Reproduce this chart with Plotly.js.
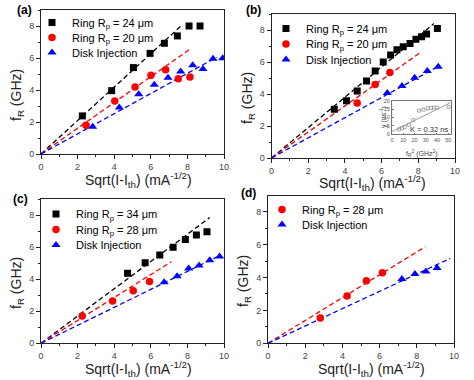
<!DOCTYPE html>
<html><head><meta charset="utf-8">
<script src="https://cdn.plot.ly/plotly-3.0.1.min.js"></script>
<style>html,body{margin:0;padding:0;background:#fff}#c{width:474px;height:380px}</style>
</head><body><div id="c"></div>
<script>
// ---- data ----
var a_r24_x = [2.26,3.86,5.05,5.96,6.74,7.45,8.09,8.69];
var a_r24_y = [2.38,3.96,5.40,6.29,6.92,7.38,8.0,8.0];
var a_r20_x = [2.46,4.03,5.14,6.01,6.81,7.5,8.14];
var a_r20_y = [1.79,3.31,4.19,4.92,5.27,4.71,4.81];
var a_dk_x = [2.82,4.28,5.34,6.19,6.94,7.63,8.29,8.85,9.4,9.93];
var a_dk_y = [1.71,2.9,3.73,4.33,4.77,5.15,5.54,5.31,5.96,5.98];
var a_fit_r24 = {x:[0,7.65], y:[0,8.0]};
var a_fit_r20 = {x:[0,8.15], y:[0,6.56]};
var a_fit_dk = {x:[0,9.6], y:[0,6.05]};

var b_r24_x = [3.42,4.09,4.67,5.18,5.65,6.09,6.49,6.84,7.18,7.55,7.87,8.18,8.45,9.04];
var b_r24_y = [3.04,3.58,4.19,4.81,5.44,6.0,6.44,6.77,6.96,7.15,7.42,7.58,7.75,8.1];
var b_r20_x = [4.67,5.65,6.45];
var b_r20_y = [3.44,4.6,5.35];
var b_dk_x = [6.31,7.11,7.8,8.49,9.09];
var b_dk_y = [4.06,4.5,5.02,5.44,5.71];
var b_fit_r24 = {x:[0,8.85], y:[0,8.4]};
var b_fit_r20 = {x:[0,8.18], y:[0,6.65]};
var b_fit_dk = {x:[0,9.05], y:[0,5.7]};

var c_r34_x = [4.73,5.69,6.49,7.22,7.89,8.49,9.07];
var c_r34_y = [4.37,5.03,5.51,5.99,6.47,6.75,6.96];
var c_r28_x = [2.25,3.91,5.04,5.93];
var c_r28_y = [1.7,2.64,3.28,3.85];
var c_dk_x = [6.73,7.44,8.07,8.64,9.22,9.76];
var c_dk_y = [3.8,4.18,4.66,4.86,5.18,5.41];
var c_fit_r34 = {x:[0,9.22], y:[0,7.84]};
var c_fit_r28 = {x:[0,7.13], y:[0,5.09]};
var c_fit_dk = {x:[0,9.76], y:[0,5.47]};

var d_r28_x = [2.81,4.25,5.29,6.15];
var d_r28_y = [1.54,2.87,3.8,4.29];
var d_dk_x = [7.2,7.9,8.49,9.09];
var d_dk_y = [3.9,4.21,4.37,4.57];
var d_fit_r28 = {x:[0,8.46], y:[0,5.87]};
var d_fit_dk = {x:[0,9.8], y:[0,5.16]};

var in_x = [6.1,8.8,11.3,15.2,18.9,24.1,28,31.7,34.8,37.2,40.2,50.3];
var in_y = [2.8,3.6,4.2,5.6,8.4,14.2,14.8,15.6,15.8,16,16,16.4];
var in_fit = {x:[0,52], y:[1.5,19]};

var names = {r24:'Ring R<sub>p</sub> = 24 \u03bcm', r20:'Ring R<sub>p</sub> = 20 \u03bcm',
  r34:'Ring R<sub>p</sub> = 34 \u03bcm', r28:'Ring R<sub>p</sub> = 28 \u03bcm', dk:'Disk Injection'};
var xTitle = 'Sqrt(I-I<sub>th</sub>) (mA<sup>-1/2</sup>)';
var yTitle = 'f<sub>R</sub> (GHz)';

// ---- styling helpers ----
var W=474, H=380;
function px(v){return v/W;}
function py(v){return 1-v/H;}
var FONT = 'Arial, "Liberation Sans", sans-serif';
var BLACK='#000000', RED='#ff0000', BLUE='#0000ff';
var mk = {sq:{symbol:'square',size:7,color:BLACK}, ci:{symbol:'circle',size:7.5,color:RED}, tr:{symbol:'triangle-up',size:8,color:BLUE}};

var traces=[];
var legN=0;
var legends={};
function pts(x,y,m,name,xa,ya,lx,ly){
  legN++;
  var id = legN===1?'legend':'legend'+legN;
  traces.push({type:'scatter',mode:'markers',x:x,y:y,xaxis:xa,yaxis:ya,marker:m,name:name,legend:id,showlegend:true,hoverinfo:'skip'});
  legends[id]={x:px(lx-26),xanchor:'left',y:py(ly),yanchor:'middle',bgcolor:'rgba(0,0,0,0)',borderwidth:0,
    font:{family:FONT,size:11,color:'#000'}};
}
function fit(f,color,xa,ya){
  traces.push({type:'scatter',mode:'lines',x:f.x,y:f.y,xaxis:xa,yaxis:ya,line:{color:color,width:1.3,dash:'5px,3px'},showlegend:false,hoverinfo:'skip'});
}
// panel a
fit(a_fit_r24,BLACK,'x','y'); fit(a_fit_r20,RED,'x','y'); fit(a_fit_dk,BLUE,'x','y');
pts(a_r24_x,a_r24_y,mk.sq,names.r24,'x','y',58,22.5);
pts(a_r20_x,a_r20_y,mk.ci,names.r20,'x','y',58,37.5);
pts(a_dk_x,a_dk_y,mk.tr,names.dk,'x','y',58,52.5);
// panel b
fit(b_fit_r24,BLACK,'x2','y2'); fit(b_fit_r20,RED,'x2','y2'); fit(b_fit_dk,BLUE,'x2','y2');
pts(b_r24_x,b_r24_y,mk.sq,names.r24,'x2','y2',292,28.5);
pts(b_r20_x,b_r20_y,mk.ci,names.r20,'x2','y2',292,44);
pts(b_dk_x,b_dk_y,mk.tr,names.dk,'x2','y2',292,59.5);
// panel c
fit(c_fit_r34,BLACK,'x3','y3'); fit(c_fit_r28,RED,'x3','y3'); fit(c_fit_dk,BLUE,'x3','y3');
pts(c_r34_x,c_r34_y,mk.sq,names.r34,'x3','y3',62,214);
pts(c_r28_x,c_r28_y,mk.ci,names.r28,'x3','y3',62,229.5);
pts(c_dk_x,c_dk_y,mk.tr,names.dk,'x3','y3',62,245);
// panel d
fit(d_fit_r28,RED,'x4','y4'); fit(d_fit_dk,BLUE,'x4','y4');
pts(d_r28_x,d_r28_y,mk.ci,names.r28,'x4','y4',288,209.5);
pts(d_dk_x,d_dk_y,mk.tr,names.dk,'x4','y4',288,224.5);
// inset
traces.push({type:'scatter',mode:'lines',x:in_fit.x,y:in_fit.y,xaxis:'x5',yaxis:'y5',line:{color:'#888',width:0.8},showlegend:false,hoverinfo:'skip'});
traces.push({type:'scatter',mode:'markers',x:in_x,y:in_y,xaxis:'x5',yaxis:'y5',marker:{symbol:'square-open',size:3,color:'#888',line:{width:0.7}},showlegend:false,hoverinfo:'skip'});

function axis(dom,range,anchor,dtick){
  return {domain:dom,range:range,anchor:anchor,showline:true,linecolor:'#222',linewidth:1,mirror:true,
    ticks:'outside',ticklen:4,tickwidth:1,tickcolor:'#222',dtick:dtick,tick0:0,
    minor:{ticks:'outside',ticklen:2,dtick:dtick/2,tickcolor:'#222'},
    showgrid:false,zeroline:false,tickfont:{family:FONT,size:9,color:'#444'},fixedrange:true};
}
var layout={width:W,height:H,margin:{l:0,r:0,t:0,b:0},paper_bgcolor:'#fff',plot_bgcolor:'rgba(0,0,0,0)',
  font:{family:FONT},
  xaxis:axis([px(41),px(224)],[0,10],'y',2), yaxis:axis([py(154),py(10)],[0,9],'x',2),
  xaxis2:axis([px(271.5),px(455)],[0,10],'y2',2), yaxis2:axis([py(158),py(14)],[0,9],'x2',2),
  xaxis3:axis([px(41),px(224)],[0,10],'y3',2), yaxis3:axis([py(343.3),py(199)],[0,9],'x3',2),
  xaxis4:axis([px(268),px(454)],[0,10],'y4',2), yaxis4:axis([py(343.3),py(196)],[0,8.95],'x4',2),
  annotations:[], showlegend:true
};
var inX = axis([px(392),px(451)],[0,52.5],'y5',10);
var inY = axis([py(134),py(101)],[0,20],'x5',5);
[inX,inY].forEach(function(a){a.linecolor='#777';a.tickcolor='#777';a.ticks='inside';a.ticklen=1.5;
  a.minor={ticks:''};a.tickfont={family:FONT,size:5.5,color:'#555'};});
layout.xaxis5=inX; layout.yaxis5=inY;
for (var k in legends) layout[k]=legends[k];

function ann(text,x,y,opt){
  var a={text:text,x:px(x),y:py(y),xref:'paper',yref:'paper',showarrow:false,xanchor:'center',yanchor:'middle',
    font:{family:FONT,size:14,color:'#222'}};
  for (var k in opt) a[k]=opt[k];
  layout.annotations.push(a);
}
ann(xTitle,138,180); ann(xTitle,372,183); ann(xTitle,138,369); ann(xTitle,371,369);
ann(yTitle,17,95,{textangle:-90}); ann(yTitle,248,98,{textangle:-90});
ann(yTitle,17,283,{textangle:-90}); ann(yTitle,244,281,{textangle:-90});
var lab={size:12,color:'#000',family:FONT};
ann('<b>(a)</b>',24,10,{font:lab}); ann('<b>(b)</b>',253,10,{font:lab});
ann('<b>(c)</b>',20,199,{font:lab}); ann('<b>(d)</b>',248,193,{font:lab});
ann('K = 0.32 ns',428.5,129.5,{font:{family:FONT,size:7.5,color:'#333'}});
ann('f<sub>R</sub><sup>2</sup> (GHz<sup>2</sup>)',422,153,{font:{family:FONT,size:7,color:'#444'}});
ann('\u03b3 (ns<sup>-1</sup>)',384,117,{textangle:-90,font:{family:FONT,size:7,color:'#444'}});

Plotly.newPlot('c',traces,layout,{staticPlot:true});
</script></body></html>
